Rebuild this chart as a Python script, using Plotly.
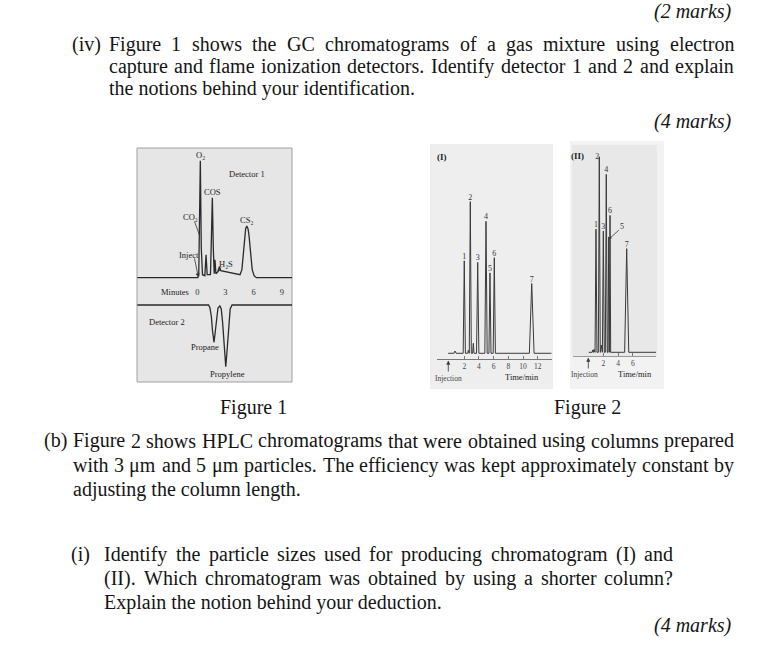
import math
import plotly.graph_objects as go

W, H = 777, 651
SERIF = "Liberation Serif, Times New Roman, serif"

# ---------------- data ----------------
# Figure 1 (GC): detector 1 and detector 2 traces (time in minutes, response in arbitrary units)
gc_det1_time = [-6.4, 0.05, 0.15, 0.22, 0.32, 0.42, 0.55, 0.8, 0.93, 1.05, 1.4, 1.5, 1.6, 1.7,
                1.8, 1.88, 1.98, 2.2, 2.35, 2.5, 3.0, 3.6, 4.2, 4.55, 4.75, 4.9, 5.05, 5.15,
                5.27, 5.4, 5.5, 5.65, 5.85, 6.05, 6.3, 10.1]
gc_det1_resp = [0, 0, 2, 60, 117, 30, 3, 2, 23, 3, 3, 40, 80, 30,
                4, 18, 4, 6, 11, 7, 6, 5, 4, 3, 8, 25, 43, 49,
                51.7, 49, 43, 25, 8, 2, 0, 0]
gc_det2_time = [-6.4, 1.2, 1.35, 1.5, 1.62, 1.78, 1.92, 2.05, 2.2, 2.4, 2.55, 2.7, 2.85, 3.03,
                3.2, 3.35, 3.5, 3.7, 10.1]
gc_det2_resp = [0, 0, -3, -12, -26, -37.3, -26, -12, -3, -1, -4, -18, -42, -61.7,
                -42, -18, -4, 0, 0]
gc_ticks = [0, 3, 6, 9]

# Figure 2 (HPLC): peak retention times (min), heights (% of peak 2), half widths (min)
peak_names = ["1", "2", "3", "4", "5", "6", "7"]
hplc1_time = [2.0, 2.82, 3.83, 4.96, 5.5, 6.09, 11.19]
hplc1_height = [61, 100, 60, 87, 53, 63, 46]
hplc1_halfw = [0.15, 0.14, 0.16, 0.16, 0.14, 0.15, 0.32]
hplc1_minor_time = [0.74, 2.55, 3.23]
hplc1_minor_height = [1.5, 2.0, 6.6]
hplc1_minor_halfw = [0.15, 0.08, 0.1]
hplc1_ticks = [2, 4, 6, 8, 10, 12]

hplc2_time = [0.99, 1.44, 1.99, 2.39, 2.72, 2.9, 5.17]
hplc2_height = [63, 100, 62, 91, 59, 70, 53]
hplc2_halfw = [0.13, 0.13, 0.13, 0.13, 0.09, 0.09, 0.28]
hplc2_minor_time = [0.55, 0.72, 1.7]
hplc2_minor_height = [1.2, 1.5, 3.7]
hplc2_minor_halfw = [0.08, 0.08, 0.1]
hplc2_ticks = [2, 4, 6]

# Text of the page
para_iv = ["Figure 1 shows the GC chromatograms of a gas mixture using electron",
           "capture and flame ionization detectors. Identify detector 1 and 2 and explain",
           "the notions behind your identification."]
para_b = ["Figure 2 shows HPLC chromatograms that were obtained using columns prepared",
          "with 3 μm and 5 μm particles. The efficiency was kept approximately constant by",
          "adjusting the column length."]
para_i = ["Identify the particle sizes used for producing chromatogram (I) and",
          "(II). Which chromatogram was obtained by using a shorter column?",
          "Explain the notion behind your deduction."]

# ---------------- helpers ----------------
def px(x):
    return x / W


def py(y):
    return 1 - y / H


# Times / Liberation Serif advance widths (1/1000 em)
TW = {' ': 250, '(': 333, ')': 333, '.': 250, ',': 250, '?': 444, '-': 333, 'μ': 576,
      'A': 722, 'B': 667, 'C': 667, 'D': 722, 'E': 611, 'F': 556, 'G': 722, 'H': 722,
      'I': 333, 'J': 389, 'K': 722, 'L': 611, 'M': 889, 'N': 722, 'O': 722, 'P': 556,
      'Q': 722, 'R': 667, 'S': 556, 'T': 611, 'U': 722, 'V': 722, 'W': 944, 'X': 722,
      'Y': 722, 'Z': 611,
      'a': 444, 'b': 500, 'c': 444, 'd': 500, 'e': 444, 'f': 333, 'g': 500, 'h': 500,
      'i': 278, 'j': 278, 'k': 500, 'l': 278, 'm': 778, 'n': 500, 'o': 500, 'p': 500,
      'q': 500, 'r': 333, 's': 389, 't': 278, 'u': 500, 'v': 500, 'w': 722, 'x': 500,
      'y': 500, 'z': 444}
for d in "0123456789":
    TW[d] = 500


def text_w(s, size):
    return sum(TW.get(c, 500) for c in s) * size / 1000.0


annotations = []
shapes = []
BODY = 20
INK = "#151515"


def txt(x, y, s, size, xanchor="center", color="#222", family=SERIF):
    annotations.append(dict(x=px(x), y=py(y), xref="paper", yref="paper", text=s,
                            showarrow=False, xanchor=xanchor, yanchor="middle",
                            borderpad=0,
                            font=dict(family=family, size=size, color=color)))


def line(x0, y0, x1, y1, color="#333", width=0.8):
    shapes.append(dict(type="line", xref="paper", yref="paper", x0=px(x0), y0=py(y0),
                       x1=px(x1), y1=py(y1), line=dict(color=color, width=width)))


def arrow(hx, hy, tx, ty, color="#333", width=0.8, L=3.5, hw=1.6):
    """Line from tail (tx,ty) to head (hx,hy) with a small filled head (pixel coords)."""
    dx, dy = hx - tx, hy - ty
    n = math.hypot(dx, dy)
    ux, uy = dx / n, dy / n
    bx, by = hx - ux * L, hy - uy * L
    line(tx, ty, bx, by, color=color, width=width)
    p1 = (bx - uy * hw, by + ux * hw)
    p2 = (bx + uy * hw, by - ux * hw)
    path = "M {:.5f} {:.5f} L {:.5f} {:.5f} L {:.5f} {:.5f} Z".format(
        px(hx), py(hy), px(p1[0]), py(p1[1]), px(p2[0]), py(p2[1]))
    shapes.append(dict(type="path", xref="paper", yref="paper", path=path,
                       fillcolor=color, line=dict(color=color, width=0.5)))


def justify(s, x0, x1, y, size=BODY):
    words = s.split(" ")
    widths = [text_w(w, size) for w in words]
    gap = (x1 - x0 - sum(widths)) / (len(words) - 1)
    x = x0
    for w, wd in zip(words, widths):
        txt(x, y, w, size, xanchor="left", color=INK)
        x += wd + gap


def left(s, x0, y, size=BODY):
    txt(x0, y, s, size, xanchor="left", color=INK)


def build_trace(t0, t1, times, heights, halfw):
    xs, ys = [t0], [0]
    for t, h, w in sorted(zip(times, heights, halfw)):
        xs += [t - w, t, t + w]
        ys += [0, h, 0]
    xs.append(t1)
    ys.append(0)
    return xs, ys


# ---------------- figure ----------------
fig = go.Figure()

# Panels (photo backgrounds)
shapes.append(dict(type="rect", xref="paper", yref="paper", x0=px(137), x1=px(292),
                   y0=py(382), y1=py(148), fillcolor="#e6e6e6",
                   line=dict(color="#a0a0a0", width=1), layer="below"))
shapes.append(dict(type="rect", xref="paper", yref="paper", x0=px(430), x1=px(553),
                   y0=py(389), y1=py(144), fillcolor="#eeeeee",
                   line=dict(width=0), layer="below"))
shapes.append(dict(type="rect", xref="paper", yref="paper", x0=px(570), x1=px(664),
                   y0=py(389), y1=py(141), fillcolor="#f2f2f2",
                   line=dict(width=0), layer="below"))
shapes.append(dict(type="rect", xref="paper", yref="paper", x0=px(572), x1=px(657),
                   y0=py(356), y1=py(145), fillcolor="#e8e8e8",
                   line=dict(width=0), layer="below"))

# Figure 1 traces
fig.add_trace(go.Scatter(x=gc_det1_time, y=gc_det1_resp, mode="lines", xaxis="x", yaxis="y",
                         line=dict(color="#2a2a2a", width=1.3), hoverinfo="skip"))
fig.add_trace(go.Scatter(x=gc_det2_time, y=gc_det2_resp, mode="lines", xaxis="x2", yaxis="y2",
                         line=dict(color="#2a2a2a", width=1.3), hoverinfo="skip"))

# Figure 2 traces
x1s, y1s = build_trace(-0.2, 13.9, hplc1_time + hplc1_minor_time,
                       hplc1_height + hplc1_minor_height, hplc1_halfw + hplc1_minor_halfw)
fig.add_trace(go.Scatter(x=x1s, y=y1s, mode="lines", xaxis="x3", yaxis="y3",
                         line=dict(color="#3a3a3a", width=1), hoverinfo="skip"))
fig.add_trace(go.Scatter(x=hplc1_time, y=hplc1_height, mode="text", text=peak_names,
                         textposition="top center", xaxis="x3", yaxis="y3",
                         textfont=dict(family=SERIF, size=8, color="#333"),
                         hoverinfo="skip", cliponaxis=False))

x2s, y2s = build_trace(0.0, 9.2, hplc2_time + hplc2_minor_time,
                       hplc2_height + hplc2_minor_height, hplc2_halfw + hplc2_minor_halfw)
fig.add_trace(go.Scatter(x=x2s, y=y2s, mode="lines", xaxis="x4", yaxis="y4",
                         line=dict(color="#3a3a3a", width=1), hoverinfo="skip"))
# peak labels of (II); peak 5 is labelled separately with a pointer
idx2 = [i for i, n in enumerate(peak_names) if n != "5"]
pos2 = {"2": "middle left"}
fig.add_trace(go.Scatter(x=[hplc2_time[i] for i in idx2], y=[hplc2_height[i] for i in idx2],
                         mode="text", text=[peak_names[i] for i in idx2],
                         textposition=[pos2.get(peak_names[i], "top center") for i in idx2],
                         xaxis="x4", yaxis="y4",
                         textfont=dict(family=SERIF, size=8, color="#333"),
                         hoverinfo="skip", cliponaxis=False))
annotations.append(dict(x=hplc2_time[4] + 0.08, y=hplc2_height[4] - 1, xref="x4", yref="y4",
                        text="5", showarrow=True, ax=13, ay=-12, arrowhead=2, arrowsize=0.6,
                        arrowwidth=0.8, arrowcolor="#333",
                        font=dict(family=SERIF, size=8, color="#333")))


def hidden_axis(**kw):
    d = dict(showgrid=False, zeroline=False, showticklabels=False, ticks="", showline=False,
             fixedrange=True)
    d.update(kw)
    return d


fig.update_layout(
    width=W, height=H, margin=dict(l=0, r=0, t=0, b=0),
    paper_bgcolor="white", plot_bgcolor="rgba(0,0,0,0)", showlegend=False,
    xaxis=hidden_axis(domain=[px(137), px(292)], range=[-6.43, 10.09], anchor="y",
                      showticklabels=True, tickvals=gc_ticks, ticklen=0,
                      tickfont=dict(family=SERIF, size=8.5, color="#333")),
    yaxis=hidden_axis(domain=[py(285), py(148)], range=[-7.3, 129.7], anchor="x"),
    xaxis2=hidden_axis(domain=[px(137), px(292)], range=[-6.43, 10.09], anchor="y2"),
    yaxis2=hidden_axis(domain=[py(381), py(298)], range=[-76, 7], anchor="x2"),
    xaxis3=hidden_axis(domain=[px(436.7), px(551.7)], range=[-1.757, 13.91], anchor="y3",
                       showline=True, linecolor="#777", linewidth=0.8,
                       showticklabels=True, tickvals=hplc1_ticks, ticks="inside", ticklen=3,
                       tickcolor="#777", tickwidth=0.8,
                       tickfont=dict(family=SERIF, size=7.5, color="#444")),
    yaxis3=hidden_axis(domain=[py(359.3), py(146)], range=[-3.96, 136.7], anchor="x3"),
    xaxis4=hidden_axis(domain=[px(573), px(656)], range=[-2.14, 9.16], anchor="y4",
                       showline=True, linecolor="#999", linewidth=0.8,
                       showticklabels=True, tickvals=hplc2_ticks, ticks="inside", ticklen=3,
                       tickcolor="#777", tickwidth=0.8,
                       tickfont=dict(family=SERIF, size=7.5, color="#444")),
    yaxis4=hidden_axis(domain=[py(355.7), py(146)], range=[-1.74, 105.5], anchor="x4"),
)

# ---- Figure 1 labels ----
FS1 = 8.5
txt(200.5, 155, "O₂", FS1)
txt(246.7, 174, "Detector 1", FS1)
txt(212.3, 192, "COS", FS1)
txt(190.5, 217, "CO₂", FS1)
txt(246.5, 219.5, "CS₂", FS1)
txt(189, 254.5, "Inject", FS1)
txt(226, 264, "H₂S", FS1)
txt(175, 292, "Minutes", FS1)
txt(167, 322, "Detector 2", FS1)
txt(205, 347, "Propane", FS1)
txt(227, 373.5, "Propylene", FS1)
line(194.5, 221.5, 199.8, 236)
arrow(198.3, 277, 194.5, 258.5)
arrow(217.8, 271.5, 221, 267.5, L=2.5, hw=1.3)

# ---- Figure 2 labels ----
txt(441.7, 157.3, "<b>(I)</b>", 9)
txt(577.5, 156, "<b>(II)</b>", 9)
arrow(448.3, 361.0, 448.3, 371.5)
arrow(588.3, 358.0, 588.3, 368.5)
txt(448.3, 378, "Injection", 7.5, color="#444")
txt(584, 375, "Injection", 7.5, color="#444")
txt(521.7, 377, "Time/min", 8.5, color="#222")
txt(635, 373.5, "Time/min", 8.5, color="#222")

# ---- Body text ----
txt(733, 11, "<i>(2 marks)</i>", BODY, xanchor="right", color=INK)
left("(iv)", 71, 44)
justify(para_iv[0], 107.5, 733, 44)
justify(para_iv[1], 107.5, 733, 66)
left(para_iv[2], 107.5, 88)
txt(733, 121, "<i>(4 marks)</i>", BODY, xanchor="right", color=INK)

txt(253, 407, "Figure 1", BODY, color=INK)
txt(587.5, 407, "Figure 2", BODY, color=INK)

left("(b)", 43, 441)
justify(para_b[0], 72, 733, 441)
justify(para_b[1], 72, 733, 465)
left(para_b[2], 72, 489)

left("(i)", 70, 554)
justify(para_i[0], 103, 672, 554)
justify(para_i[1], 103, 672, 578)
left(para_i[2], 103, 602)
txt(733, 625, "<i>(4 marks)</i>", BODY, xanchor="right", color=INK)

fig.update_layout(annotations=annotations, shapes=shapes)

fig.write_html("out.html", config={"displayModeBar": False},
               post_script="document.body.style.margin='0';")
